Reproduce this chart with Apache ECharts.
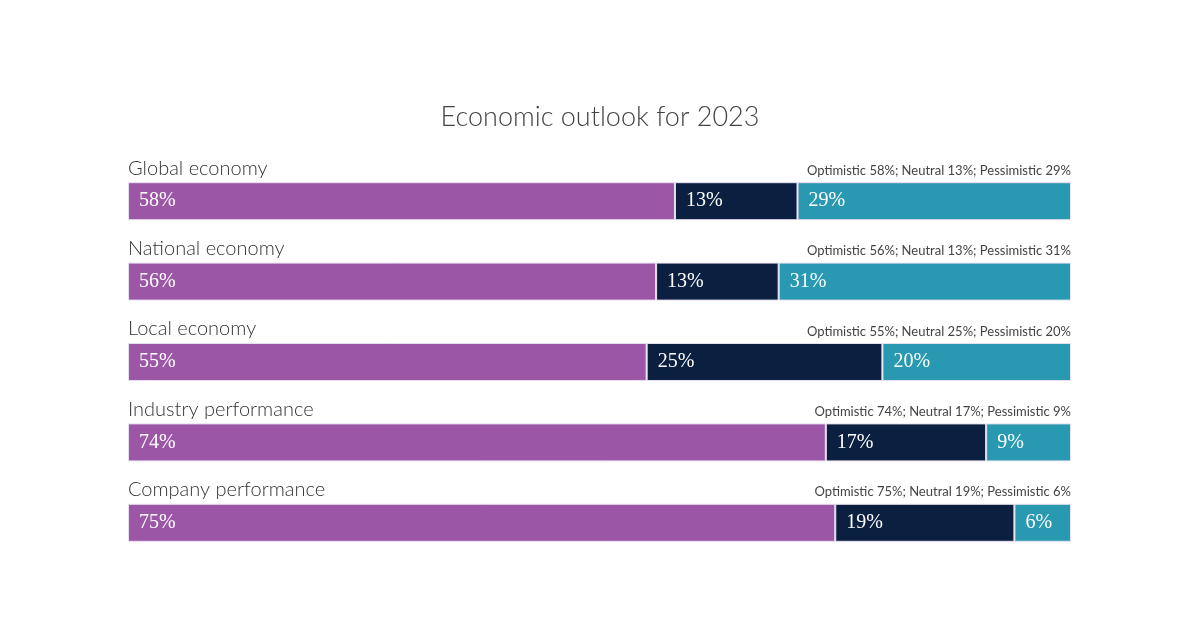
<!DOCTYPE html>
<html>
<head>
<meta charset="utf-8">
<script src="https://cdn.jsdelivr.net/npm/echarts@6/dist/echarts.min.js"></script>
<style>
  html, body { margin: 0; padding: 0; background: #fff; }
  #chart { width: 1200px; height: 627px; }
</style>
</head>
<body>
<div id="chart"></div>
<script>
var categories = ['Global economy', 'National economy', 'Local economy', 'Industry performance', 'Company performance'];
var optimistic = [58, 56, 55, 74, 75];
var neutral = [13, 13, 25, 17, 19];
var pessimistic = [29, 31, 20, 9, 6];

var chart = echarts.init(document.getElementById('chart'));

var barLabel = {
    show: true,
    position: 'insideLeft',
    distance: 11,
    color: '#fff',
    fontFamily: 'Liberation Serif',
    fontSize: 20,
    formatter: '{c}%'
};

function makeSeries(name, data, color) {
    return {
        name: name,
        type: 'bar',
        stack: 'total',
        barWidth: 38,
        data: data,
        itemStyle: { color: color, borderColor: '#e8e0ee', borderWidth: 1 },
        label: barLabel,
        emphasis: { disabled: true }
    };
}

var option = {
    backgroundColor: '#fff',
    animation: false,
    title: {
        text: 'Economic outlook for 2023',
        left: 'center',
        top: 99,
        textStyle: { fontFamily: 'Lato', fontWeight: 300, fontSize: 27, color: '#444' }
    },
    grid: { left: 128, right: 129, top: 161, bottom: 64 },
    xAxis: { type: 'value', min: 0, max: 100, show: false },
    yAxis: [{
        type: 'category',
        data: categories,
        inverse: true,
        position: 'left',
        axisLine: { show: false },
        axisTick: { show: false },
        axisLabel: {
            inside: true,
            margin: 0,
            align: 'left',
            verticalAlign: 'bottom',
            padding: [0, 0, 23, 0],
            fontFamily: 'Lato',
            fontWeight: 300,
            fontSize: 20,
            color: '#333'
        }
    }, {
        type: 'category',
        data: categories,
        inverse: true,
        position: 'right',
        axisLine: { show: false },
        axisTick: { show: false },
        axisLabel: {
            inside: true,
            margin: 0,
            align: 'right',
            verticalAlign: 'bottom',
            padding: [0, 0, 24, 0],
            fontFamily: 'Lato',
            fontSize: 13,
            color: '#444',
            formatter: function (value, idx) {
                return 'Optimistic ' + optimistic[idx] + '%; Neutral ' + neutral[idx] +
                    '%; Pessimistic ' + pessimistic[idx] + '%';
            }
        }
    }],
    series: [
        makeSeries('Optimistic', optimistic, '#9b57a6'),
        makeSeries('Neutral', neutral, '#0b1f41'),
        makeSeries('Pessimistic', pessimistic, '#2899b1')
    ]
};

chart.setOption(option);
</script>
</body>
</html>
